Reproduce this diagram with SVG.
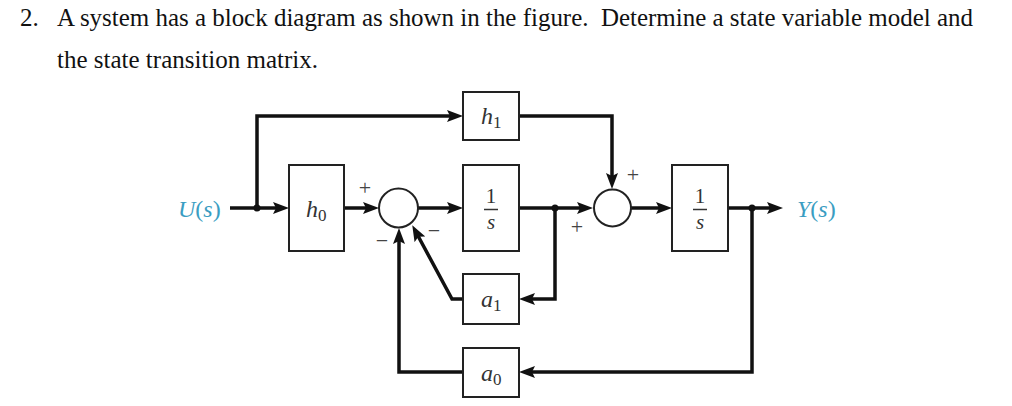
<svg xmlns="http://www.w3.org/2000/svg" width="1012" height="406" viewBox="0 0 1012 406">
<defs>
<style>
.hdr{font-family:"Liberation Serif","Times New Roman",serif;font-size:25px;fill:#111;white-space:pre}
.blk{fill:#fff;stroke:#222;stroke-width:2}
.sum{fill:#fff;stroke:#222;stroke-width:2}
.lbl{font-family:"Liberation Serif","Times New Roman",serif;font-size:24px;fill:#333}
.frac{font-family:"Liberation Serif","Times New Roman",serif;font-size:21px;fill:#333;text-anchor:middle}
.it{font-style:italic}
.sub{font-size:17px;font-style:normal}
.sig{font-family:"Liberation Serif","Times New Roman",serif;font-size:22px;fill:#444;text-anchor:middle}
.io{font-family:"Liberation Serif","Times New Roman",serif;font-size:24px;fill:#3a9dc2}
.wire{fill:none;stroke:#111;stroke-width:3.5;stroke-linejoin:miter}
.arr{marker-end:url(#ah)}
</style>
<marker id="ah" viewBox="0 0 16 12" refX="6" refY="6" markerWidth="16" markerHeight="12" markerUnits="userSpaceOnUse" orient="auto">
<path d="M0,0 L16,6 L0,12 L3,6 z" fill="#111"/>
</marker>
</defs>
<rect width="1012" height="406" fill="#fff"/>
<g id="header">
<text class="hdr" x="20" y="26">2.</text>
<text class="hdr" x="57" y="26" textLength="916" lengthAdjust="spacingAndGlyphs">A system has a block diagram as shown in the figure.  Determine a state variable model and</text>
<text class="hdr" x="57" y="68">the state transition matrix.</text>
</g>
<g id="connectors">
<path class="wire arr" d="M230,208 H279"/>
<path class="wire arr" d="M257,208 V116 H453"/>
<path class="wire arr" d="M344,208 H369"/>
<path class="wire arr" d="M418,208 H453"/>
<path class="wire arr" d="M519,116 H612 V179"/>
<path class="wire arr" d="M519,208 H583"/>
<path class="wire arr" d="M555,208 V299 H529"/>
<path class="wire arr" d="M463,299 H452 L417,234"/>
<path class="wire arr" d="M631,208 H662"/>
<path class="wire arr" d="M728,208 H773"/>
<path class="wire arr" d="M752,208 V372 H529"/>
<path class="wire arr" d="M463,372 H399 V238"/>
<circle cx="257" cy="208" r="3.5" fill="#111"/>
<circle cx="555" cy="208" r="3.5" fill="#111"/>
<circle cx="752" cy="208" r="3.5" fill="#111"/>
</g>
<g id="U">
<text class="io" x="178" y="217"><tspan class="it">U</tspan>(<tspan class="it">s</tspan>)</text>
</g>
<g id="Y">
<text class="io" x="797" y="217"><tspan class="it">Y</tspan>(<tspan class="it">s</tspan>)</text>
</g>
<g id="h0">
<rect class="blk" x="289" y="165" width="55" height="86"/>
<text class="lbl" x="306" y="217"><tspan class="it">h</tspan><tspan class="sub" dy="4">0</tspan></text>
</g>
<g id="h1">
<rect class="blk" x="463" y="92" width="56" height="48"/>
<text class="lbl" x="481" y="124"><tspan class="it">h</tspan><tspan class="sub" dy="4">1</tspan></text>
</g>
<g id="sum1">
<circle class="sum" cx="398.5" cy="208" r="19.5"/>
<text class="sig" x="365" y="195">+</text>
<text class="sig" x="382" y="248">−</text>
<text class="sig" x="434" y="238">−</text>
</g>
<g id="int1">
<rect class="blk" x="463" y="165" width="56" height="86"/>
<text class="frac" x="491" y="203">1</text>
<line x1="484" y1="209.5" x2="498" y2="209.5" stroke="#333" stroke-width="1.5"/>
<text class="frac it" x="491" y="229">s</text>
</g>
<g id="sum2">
<circle class="sum" cx="612.5" cy="208" r="18.5"/>
<text class="sig" x="633" y="182">+</text>
<text class="sig" x="577" y="234">+</text>
</g>
<g id="int2">
<rect class="blk" x="672" y="165" width="56" height="86"/>
<text class="frac" x="700" y="203">1</text>
<line x1="693" y1="209.5" x2="707" y2="209.5" stroke="#333" stroke-width="1.5"/>
<text class="frac it" x="700" y="229">s</text>
</g>
<g id="a1">
<rect class="blk" x="463" y="274" width="56" height="50"/>
<text class="lbl" x="481" y="307"><tspan class="it">a</tspan><tspan class="sub" dy="4">1</tspan></text>
</g>
<g id="a0">
<rect class="blk" x="463" y="348" width="56" height="49"/>
<text class="lbl" x="481" y="381"><tspan class="it">a</tspan><tspan class="sub" dy="4">0</tspan></text>
</g>
</svg>
